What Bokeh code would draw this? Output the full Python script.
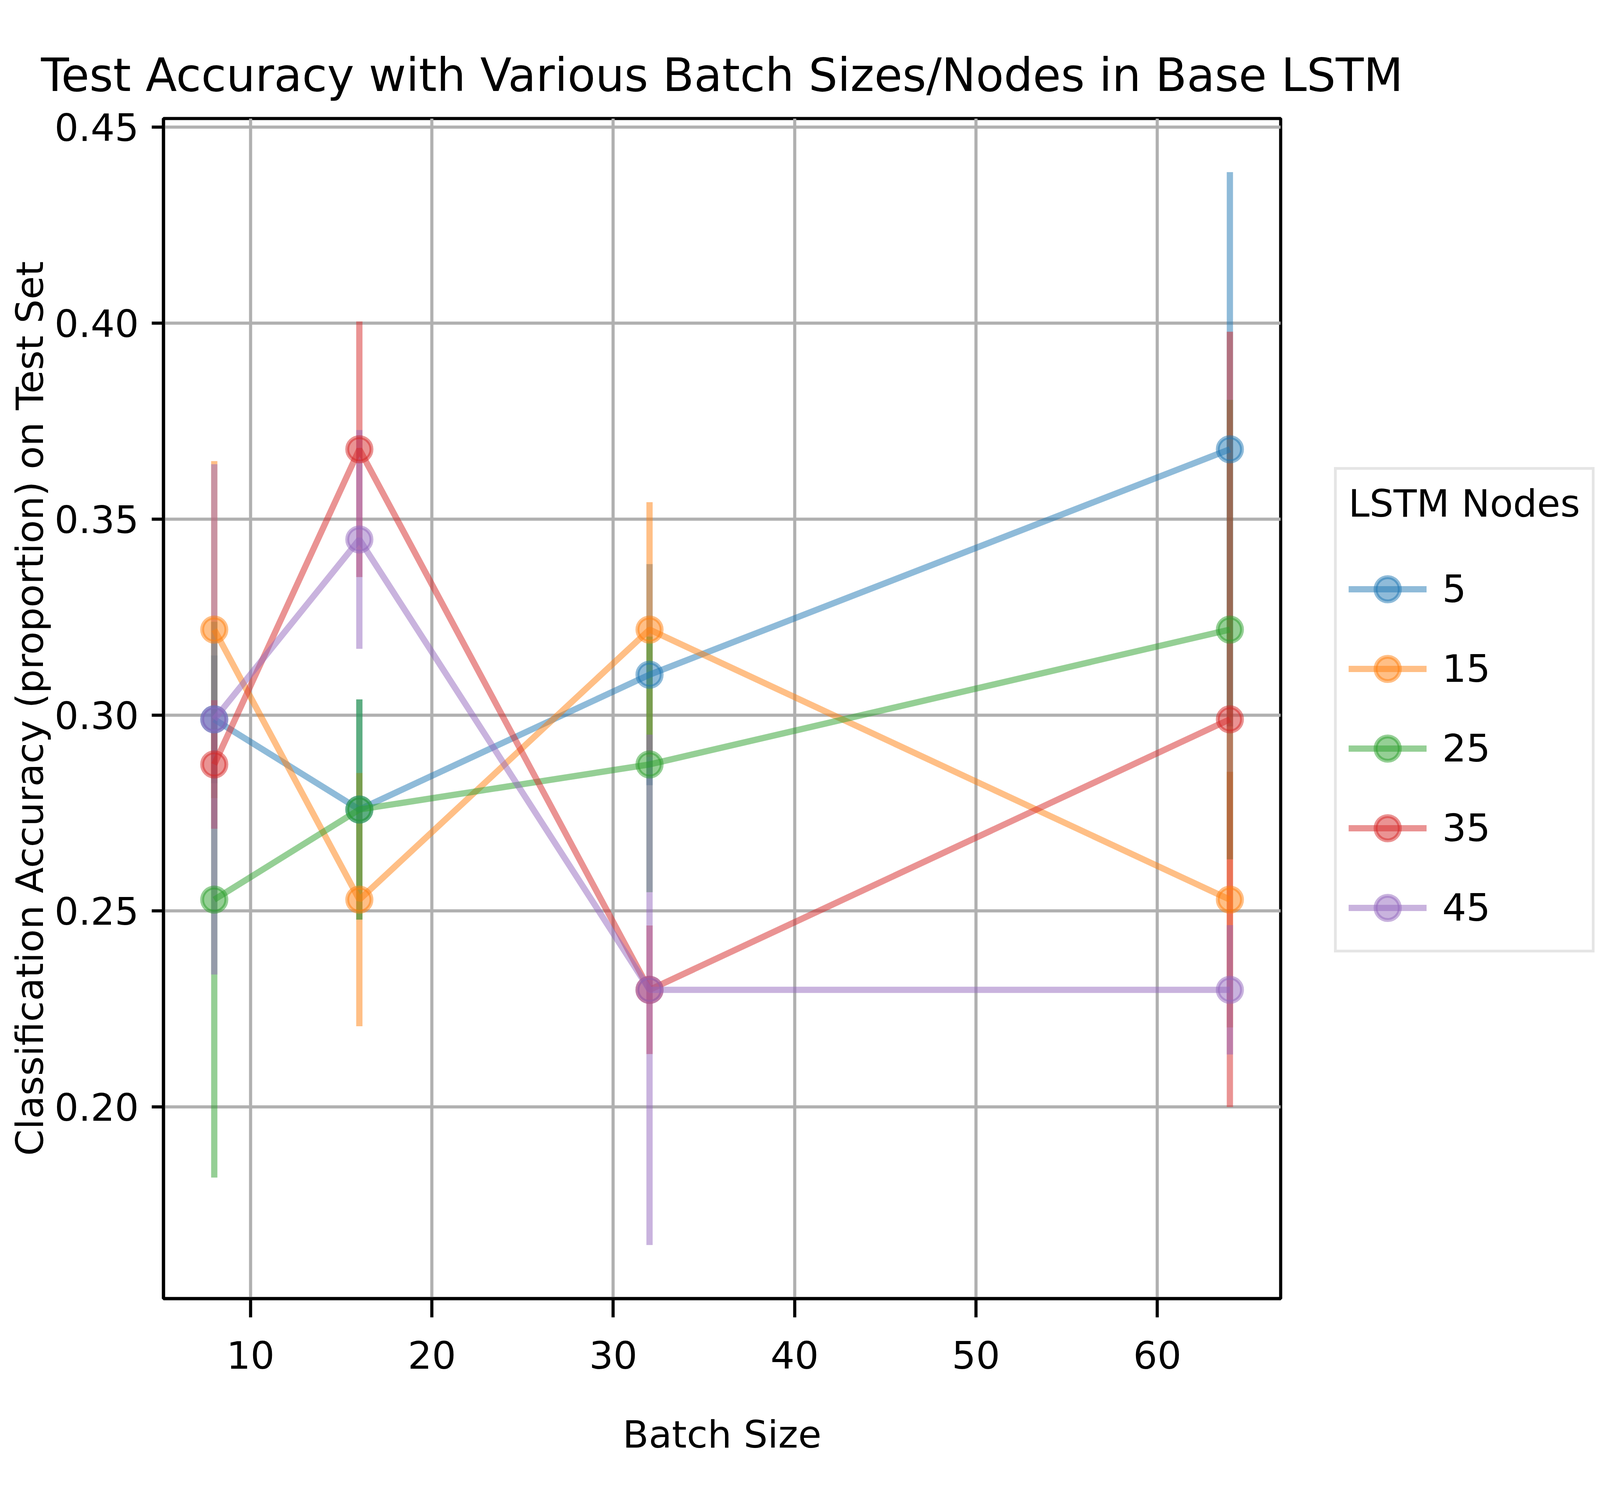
import numpy as np
from bokeh.plotting import figure
from bokeh.models import Range1d, FixedTicker, NumeralTickFormatter, Legend, LegendItem
from bokeh.embed import file_html
from bokeh.resources import INLINE

# data (accuracy and error bar half-length per batch size)
batch_sizes = [8, 16, 32, 64]
node_labels = ["5", "15", "25", "35", "45"]

acc_5 = [0.2989, 0.2759, 0.3103, 0.3678]
acc_15 = [0.3218, 0.2529, 0.3218, 0.2529]
acc_25 = [0.2529, 0.2759, 0.2874, 0.3218]
acc_35 = [0.2874, 0.3678, 0.2299, 0.2989]
acc_45 = [0.2989, 0.3448, 0.2299, 0.2299]

err_5 = [0.0163, 0.0281, 0.0282, 0.0707]
err_15 = [0.0430, 0.0323, 0.0325, 0.0326]
err_25 = [0.0709, 0.0281, 0.0326, 0.0586]
err_35 = [0.0164, 0.0326, 0.0164, 0.0989]
err_45 = [0.0651, 0.0279, 0.0651, 0.0165]

x_ticks = [10, 20, 30, 40, 50, 60]
y_ticks = [0.20, 0.25, 0.30, 0.35, 0.40, 0.45]

colors = ["#1f77b4", "#ff7f0e", "#2ca02c", "#d62728", "#9467bd"]
accs = [acc_5, acc_15, acc_25, acc_35, acc_45]
errs = [err_5, err_15, err_25, err_35, err_45]

FONT = "DejaVu Sans"
TXT = "97px"      # tick labels, axis labels, legend
TITLE = "117px"

lows = [np.array(a) - np.array(e) for a, e in zip(accs, errs)]
highs = [np.array(a) + np.array(e) for a, e in zip(accs, errs)]
ylo = min(l.min() for l in lows)
yhi = max(h.max() for h in highs)
ypad = 0.05 * (yhi - ylo)
xpad = 0.05 * (max(batch_sizes) - min(batch_sizes))

# the browser window is 4096 px wide, so the layout is squeezed horizontally
p = figure(width=4078, height=3836, output_backend="svg", toolbar_location=None,
           x_range=Range1d(min(batch_sizes) - xpad, max(batch_sizes) + xpad),
           y_range=Range1d(ylo - ypad, yhi + ypad),
           min_border_left=418, min_border_right=800,
           min_border_top=303, min_border_bottom=511,
           title="Test Accuracy with Various Batch Sizes/Nodes in Base LSTM")

p.title.text_font = FONT
p.title.text_font_size = TITLE
p.title.text_font_style = "normal"
p.title.text_color = "black"
p.title.align = "center"
p.title.standoff = 86

p.outline_line_color = "black"
p.outline_line_width = 8
p.grid.grid_line_color = "#b0b0b0"
p.grid.grid_line_width = 8

p.xaxis.ticker = FixedTicker(ticks=x_ticks)
p.yaxis.ticker = FixedTicker(ticks=y_ticks)
p.yaxis.formatter = NumeralTickFormatter(format="0.00")
p.xaxis.axis_label = "Batch Size"
p.yaxis.axis_label = "Classification Accuracy (proportion) on Test Set"
for ax in (p.xaxis, p.yaxis):
    ax.axis_label_text_font = FONT
    ax.axis_label_text_font_size = TXT
    ax.axis_label_text_font_style = "normal"
    ax.axis_label_text_color = "black"
    ax.major_label_text_font = FONT
    ax.major_label_text_font_size = TXT
    ax.major_label_text_color = "black"
    ax.major_tick_in = 0
    ax.major_tick_line_width = 8
    ax.major_tick_line_color = "black"
    ax.minor_tick_line_color = None
    ax.axis_line_width = 8
    ax.axis_line_color = "black"
p.xaxis.major_tick_out = 48
p.yaxis.major_tick_out = 30
p.xaxis.major_label_standoff = 60
p.xaxis.axis_label_standoff = 109
p.yaxis.major_label_standoff = 33
p.yaxis.axis_label_standoff = 4

# error bars go under all the lines and markers
for lo, hi, c in zip(lows, highs, colors):
    p.segment(x0=batch_sizes, y0=lo, x1=batch_sizes, y1=hi, line_color=c,
              line_width=16, line_alpha=0.5, line_cap="butt")

items = []
for acc, c, lab in zip(accs, colors, node_labels):
    lr = p.line(batch_sizes, acc, line_color=c, line_width=16, line_alpha=0.5)
    sr = p.scatter(batch_sizes, acc, size=62, marker="circle", fill_color=c,
                   fill_alpha=0.5, line_color=c, line_alpha=0.5, line_width=10)
    items.append(LegendItem(label=lab, renderers=[lr, sr]))

legend = Legend(items=items, location=(137, 886), margin=0, padding=30,
                spacing=49, glyph_width=200, glyph_height=155, label_standoff=40,
                title="LSTM Nodes", title_standoff=85,
                title_text_font=FONT, title_text_font_size=TXT,
                title_text_font_style="normal", title_text_color="black",
                label_text_font=FONT, label_text_font_size=TXT, label_text_color="black",
                border_line_color="#cccccc", border_line_width=7,
                background_fill_color="white", background_fill_alpha=0.8)
p.add_layout(legend, "right")

open("out.html", "w").write(file_html(p, INLINE))
